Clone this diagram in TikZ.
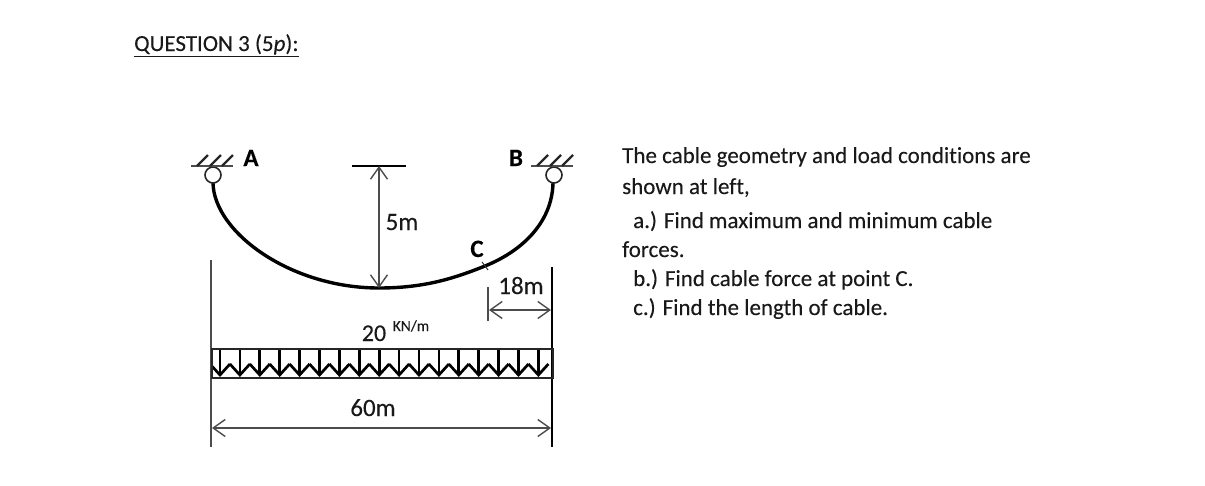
\documentclass[tikz,border=0pt]{standalone}
\usepackage{fontspec}
\setmainfont{Carlito}[Ligatures=NoCommon,FakeBold=0.15]
\usetikzlibrary{arrows.meta}

\tikzset{
    txt/.style={anchor=base west,inner sep=0pt,font=\fontsize{23}{27}\selectfont,text=black!90},
    lbl/.style={anchor=base,inner sep=0pt,font=\fontsize{25}{29}\selectfont,text=black!90},
    pt/.style={anchor=base,inner sep=0pt,font=\bfseries\fontsize{25}{29}\selectfont},
    pin/.style={circle,draw=black!85,line width=1.6pt,fill=white,minimum size=16pt,inner sep=0pt},
    dimline/.style={black!70,line width=1.2pt},
    dimarrow/.style={black!70,line width=1.4pt,{Straight Barb[length=12pt,width=17pt]}-{Straight Barb[length=12pt,width=17pt]}},
    loadarrow/.style={black,line width=2.7pt,-{Straight Barb[length=11pt,width=20pt]}},
    cable/.style={black,line width=3.4pt},
    hatch/.style={black!85,line width=2.2pt}
}

\begin{document}
\begin{tikzpicture}[x=1pt,y=-1pt]
\useasboundingbox (0,0) rectangle (1205,485);
%\draw[help lines,step=100] (0,0) grid (1205,485);

\node[txt] (title) at (134,51) {\underline{QUESTION 3 (5\textit{p}):}};

% cable
\coordinate (low) at (379,288);
\coordinate (C) at (485,266);
\coordinate (Aend) at (213,183);
\coordinate (Bend) at (553,183);
\draw[cable] (Aend) .. controls (214,232) and (290,288) .. (low)
    .. controls (425,288) and (455,278) .. (C)
    .. controls (520,252) and (552,224) .. (Bend);
\draw[black!80,line width=1pt] (482,262) -- (488,270);

% supports
\node[pin] (A) at (213,175) {};
\node[pin] (B) at (554,175) {};
\node[pt] (Alabel) at (251,166) {A};
\node[pt] (Blabel) at (516,166) {B};
\node[pt] (Clabel) at (477,257) {C};
\draw[black!70,line width=1.2pt] (191,166) -- (233,166);
\draw[black!70,line width=1.2pt] (531,166) -- (573,166);
\foreach \i in {0,13,25}{
    \draw[hatch] (197+\i,166) -- (208+\i,155);
    \draw[hatch] (537+\i,166) -- (548+\i,155);
}

% sag
\coordinate (top) at (379,166);
\draw[black,line width=1.2pt] (352,166) -- (406,166);
\draw[dimarrow] (top) -- (low);
\node[lbl] (sag) at (402,230) {5m};

% extension lines
\coordinate (leftup) at (211,260);
\coordinate (leftdown) at (211,447);
\coordinate (rightup) at (552,267);
\coordinate (rightdown) at (552,447);
\draw[dimline] (leftup) -- (leftdown);
\draw[black,line width=1.2pt] (rightup) -- (rightdown);
\draw[dimline] (488,287) -- (488,321);

\coordinate (d1) at (489,310);
\coordinate (d2) at (551,310);
\draw[dimarrow] (d1) -- (d2);
\node[lbl] (dist) at (521,294) {18m};

% load
\node[lbl,font=\fontsize{24}{28}\selectfont] (q) at (374,341) {20};
\node[lbl,font=\fontsize{15.5}{18}\selectfont] (qunit) at (411,331) {KN/m};
\begin{scope}
\clip (212,349) rectangle (553,378);
\foreach \i in {0,...,16}{
    \draw[loadarrow] (220+19.9*\i,350) -- (220+19.9*\i,377);
}
\end{scope}
\draw[black!85,line width=1.8pt] (212,349) rectangle (553,378);

\coordinate (w1) at (212,428);
\coordinate (w2) at (551,428);
\draw[dimarrow] (w1) -- (w2);
\node[lbl] (span) at (373,416) {60m};

% question text
\node[txt] (t1) at (622,163) {The cable geometry and load conditions are};
\node[txt] (t2) at (622,194) {shown at left,};
\node[txt] (t3) at (633,228) {a.) Find maximum and minimum cable};
\node[txt] (t4) at (622,257) {forces.};
\node[txt] (t5) at (633,286) {b.) Find cable force at point C.};
\node[txt] (t6) at (633,315) {c.) Find the length of cable.};
\end{tikzpicture}
\end{document}
